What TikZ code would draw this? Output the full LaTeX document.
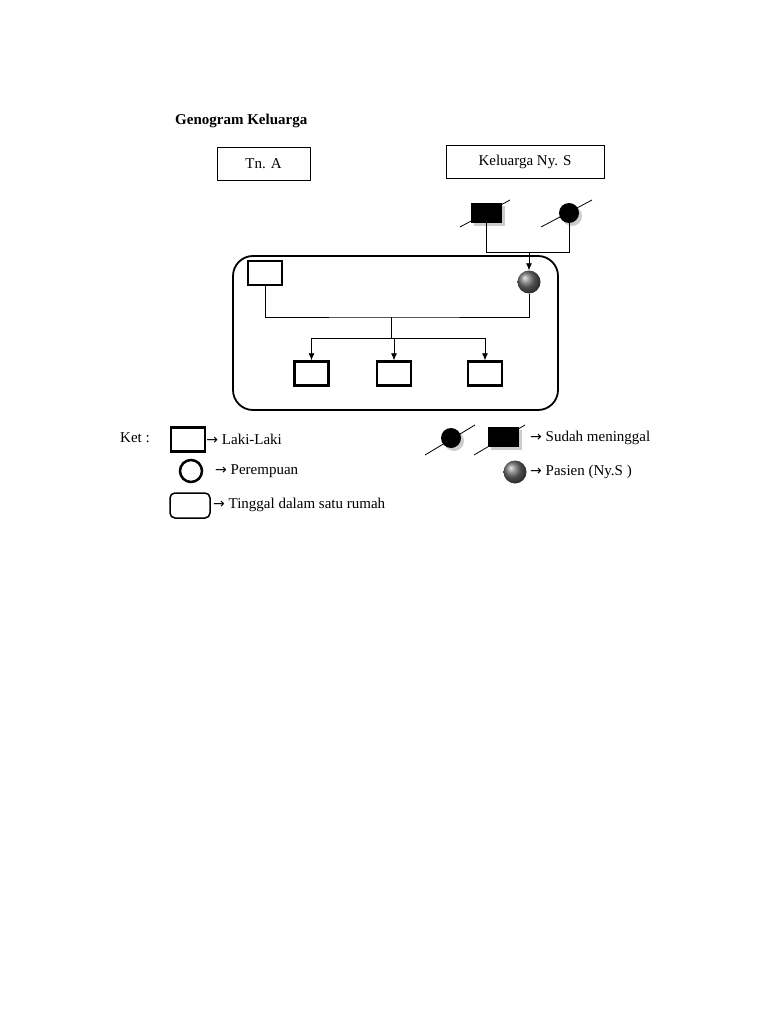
\documentclass[tikz,border=0pt]{standalone}
\usepackage{fontspec}
\setmainfont{Liberation Serif}
\newfontfamily\arrowfont{DejaVu Sans}
\usetikzlibrary{shadows, arrows.meta}
\newcommand{\ka}{{\arrowfont\fontsize{14}{16}\selectfont →}}
\begin{document}
\begin{tikzpicture}[x=1pt, y=-1pt, >={Latex[length=7pt,width=6pt]}, font=\fontsize{15}{18}\selectfont]
\tikzstyle{every node} = [inner sep=0pt]
\tikzstyle{name box} = [draw, line width=0.8pt, minimum height=33pt]
\tikzstyle{male} = [draw, line width=2.5pt, minimum width=34pt, minimum height=24pt]
\tikzstyle{female} = [circle, draw, line width=2.5pt, minimum size=22pt]
\tikzstyle{dead male} = [fill=black, minimum width=31pt, minimum height=20pt,
  drop shadow={shadow xshift=3pt, shadow yshift=-3pt, fill=gray!40, opacity=1}]
\tikzstyle{dead female} = [circle, fill=black, minimum size=20pt,
  drop shadow={shadow xshift=3pt, shadow yshift=-3pt, fill=gray!40, opacity=1}]
\tikzstyle{patient} = [circle, shading=ball, ball color=gray!85!black, minimum size=23pt]
\tikzstyle{house} = [draw, line width=1.8pt, rounded corners=20pt]
\fill[white] (0,0) rectangle (768,1024);
\useasboundingbox (0,0) rectangle (768,1024);
% judul dan keluarga
\node[anchor=west, font=\fontsize{15}{18}\selectfont\bfseries] (judul) at (175,121) {Genogram Keluarga};
\node[name box, minimum width=93pt] (tn) at (263.5,163.5) {Tn. A};
\node[name box, minimum width=158pt] (kel) at (525,162) {Keluarga Ny. S};
\node[dead male] (kk) at (486,213) {};
\node[dead female] (kn) at (569,213) {};
\draw[line width=0.8pt] ([shift={(-26,14)}]kk.center) -- ([shift={(24,-13)}]kk.center);
\draw[line width=0.8pt] ([shift={(-28,14)}]kn.center) -- ([shift={(23,-13)}]kn.center);
\coordinate (m) at (529,252);
\draw[line width=0.8pt] (kk.south) -- ++(0,29) -| (kn.south);
% rumah
\node[house, minimum width=325pt, minimum height=154pt] (rumah) at (395.5,333) {};
\node[male] (a) at (265,273) {};
\node[patient] (p) at (529,282) {};
\draw[->, line width=0.8pt] (m) -- (p.north);
\coordinate (j) at (391,317);
\coordinate (k) at (391,338);
\draw[line width=0.8pt] (a.south) |- (j) -| (p.south);
\node[male] (c1) at (311.5,373.5) {};
\node[male] (c2) at (394,373.5) {};
\node[male] (c3) at (485,373.5) {};
\draw[line width=0.8pt] (j) -- (k);
\draw[line width=0.8pt] (c1.north |- k) -- (c3.north |- k);
\foreach \c in {c1, c2, c3}
\draw[->, line width=0.8pt] (\c.north |- k) -- (\c.north);
% keterangan
\node[anchor=west] (ket) at (120,438) {Ket :};
\node[male] (lm) at (188,439.5) {};
\node[anchor=west] (tlm) at (lm.east) {\ka\ Laki-Laki};
\node[female] (lf) at (191,471) {};
\node[anchor=west] (tlf) at (215,471) {\ka\ Perempuan};
\node[draw, line width=1.5pt, rounded corners=5pt, minimum width=40pt, minimum height=25pt] (lh) at (190,505.5) {};
\node[anchor=west] (tlh) at (213,505) {\ka\ Tinggal dalam satu rumah};
\node[dead female] (ldf) at (451,438) {};
\draw[line width=0.8pt] ([shift={(-26,17)}]ldf.center) -- ([shift={(24,-13)}]ldf.center);
\node[dead male] (ldm) at (503,437) {};
\draw[line width=0.8pt] ([shift={(-29,18)}]ldm.center) -- ([shift={(22,-12)}]ldm.center);
\node[anchor=west] (tld) at (530,438) {\ka\ Sudah meninggal};
\node[patient] (lp) at (515,472) {};
\node[anchor=west] (tlp) at (530,472) {\ka\ Pasien (Ny.S )};
\end{tikzpicture}
\end{document}
